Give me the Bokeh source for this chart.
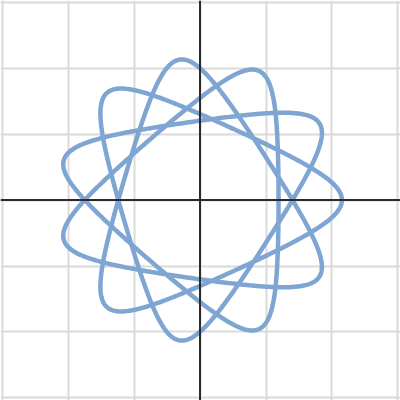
import numpy as np
from bokeh.plotting import figure
from bokeh.models import Range1d, Span, SingleIntervalTicker
from bokeh.embed import file_html
from bokeh.resources import INLINE

# Curve parameters: z(t) = A*e^(i*P*t) + B*e^(i*Q*t)
A = 1.67      # main radius
B = 0.48      # secondary radius
P = 4         # main frequency
Q = -7        # secondary frequency (11 lobes, star {11/4})
N_SAMPLES = 2000

t = np.linspace(0, 2 * np.pi, N_SAMPLES)
xs = A * np.cos(P * t) + B * np.cos(Q * t)
ys = A * np.sin(P * t) + B * np.sin(Q * t)

p = figure(width=400, height=400, output_backend="svg", toolbar_location=None,
           x_range=Range1d(-3.023, 3.038), y_range=Range1d(-3.038, 3.023),
           min_border=0)
p.outline_line_color = None
p.axis.visible = False
p.xgrid.ticker = SingleIntervalTicker(interval=1)
p.ygrid.ticker = SingleIntervalTicker(interval=1)
p.grid.grid_line_color = "#dadada"
p.grid.grid_line_width = 2

p.add_layout(Span(location=0, dimension="height", line_color="#2b2b2b", line_width=2))
p.add_layout(Span(location=0, dimension="width", line_color="#2b2b2b", line_width=2))

p.line(xs, ys, line_color="#7fa6d3", line_width=4.5, line_join="round")

open("out.html", "w").write(file_html(p, INLINE))
